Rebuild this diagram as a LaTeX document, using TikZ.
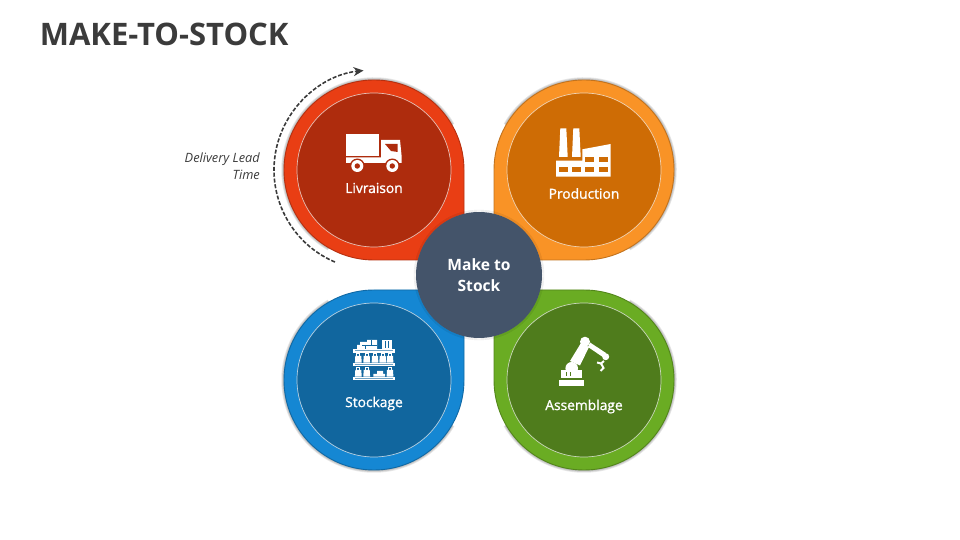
\documentclass[tikz,border=0pt]{standalone}
\usepackage{fontspec}
\setmainfont{Open Sans}
\newfontfamily\labelfont[FakeBold=1.2]{Open Sans}
\usepackage{xcolor}
\usetikzlibrary{arrows.meta}

\definecolor{titlegray}{HTML}{3B3B3B}
\definecolor{redouter}{HTML}{E93E14}
\definecolor{redinner}{HTML}{AE2C0D}
\definecolor{orangeouter}{HTML}{F99326}
\definecolor{orangeinner}{HTML}{CE6C05}
\definecolor{blueouter}{HTML}{1587D3}
\definecolor{blueinner}{HTML}{11669E}
\definecolor{greenouter}{HTML}{6AAC23}
\definecolor{greeninner}{HTML}{4F7C1C}
\definecolor{hubfill}{HTML}{44546A}

\tikzset{
	petal/.style={circle, minimum size=154pt, inner sep=0pt, draw=white!70!#1, line width=0.7pt, fill=#1},
	steplabel/.style={text=white, font=\labelfont\fontsize{13.8}{16}\selectfont},
	icon/.style={shift={(0,540)}, yscale=-1},
	halo/.style={draw=black, opacity=0.09, fill=none},
}

% teardrop behind each circle: centre, rotation, fill
\newcommand{\teardrop}[3]{
	\begin{scope}[shift={#1}, rotate=#2]
		\foreach \w in {1,2.5,4,5.5}
			\draw[halo, line width=\w pt] (-120:90pt) arc[start angle=-120, end angle=-330, radius=90pt];
		\draw[fill=#3, draw=#3!78!black, line width=0.9pt] (90,0) -- (90,-90) -- (0,-90) arc[start angle=-90, end angle=-360, radius=90pt] -- cycle;
	\end{scope}
}

\begin{document}
\begin{tikzpicture}[x=1pt, y=1pt]
	\useasboundingbox (0,0) rectangle (960,540);

	\node[text=titlegray, font=\fontsize{31}{36}\bfseries\selectfont, anchor=west] (title) at (36.3,506) {MAKE-TO-STOCK};

	\teardrop{(374,370)}{0}{redouter}
	\teardrop{(584,370)}{-90}{orangeouter}
	\teardrop{(374,160)}{90}{blueouter}
	\teardrop{(584,160)}{180}{greenouter}

	\node[petal=redinner] (livraison) at (374,370) {};
	\node[petal=orangeinner] (production) at (584,370) {};
	\node[petal=blueinner] (stockage) at (374,160) {};
	\node[petal=greeninner] (assemblage) at (584,160) {};

	\node[steplabel] (livraisonlabel) at (374,352) {Livraison};
	\node[steplabel] (productionlabel) at (584,346.5) {Production};
	\node[steplabel] (stockagelabel) at (374,136.5) {Stockage};
	\node[steplabel] (assemblagelabel) at (584,133.5) {Assemblage};

	% hub
	\foreach \w in {1,2.5,4}
		\draw[halo] (479,265) circle [radius=63+\w/2];
	\node[circle, minimum size=126pt, inner sep=0pt, fill=hubfill, text=white, align=center, font=\fontsize{15.6}{21}\bfseries\selectfont] (hub) at (479,265) {Make to\\Stock};

	% lead time arrow
	\coordinate (leadstart) at ([shift={(247:100pt)}]livraison.center);
	\draw[-{Stealth[length=10pt,width=9pt]}, titlegray, line width=1.6pt, dash pattern=on 4pt off 1.8pt] (leadstart) arc[start angle=247, end angle=96, radius=100pt];
	\node[left, align=right, text=titlegray, font=\fontsize{12.8}{17}\itshape\selectfont, inner sep=0pt] (leadlabel) at (260,373.5) {Delivery Lead\\Time};

	% truck
	\begin{scope}[icon]
		\fill[white] (346,134) rectangle (379,156);
		\fill[white] (346,157.5) -- (381,157.5) -- (381,140) -- (400,140) -- (401.7,157) -- (401.7,163) -- (346,163) -- cycle;
		\fill[redinner] (385,144) -- (397.7,144) -- (397.7,152) -- (391,151) -- cycle;
		\foreach \x in {357.3,392.3} {
			\fill[redinner] (\x,166) circle [radius=7.5];
			\fill[white] (\x,166) circle [radius=6];
			\fill[redinner] (\x,166) circle [radius=2.7];
		}
	\end{scope}

	% factory
	\begin{scope}[icon]
		\fill[white] (560.3,128.3) -- (566.3,128.3) -- (567.7,157) -- (559,157) -- cycle;
		\fill[white] (573.3,128.3) -- (579.3,128.3) -- (580.7,157) -- (572,157) -- cycle;
		\fill[white] (556,160.7) -- (582.3,160.7) -- (582.3,149.3) -- (610.7,144) -- (610.7,176.7) -- (556,176.7) -- cycle;
		\foreach \x in {559.3,572.3,585.3,598.7}
			\fill[orangeinner] (\x,166.7) rectangle +(9,5);
		\foreach \x in {585.3,598.7}
			\fill[orangeinner] (\x,156.7) rectangle +(9,5);
	\end{scope}

	% shelves
	\begin{scope}[icon]
		\foreach \y in {349,362.7,376.7} {
			\fill[white] (353.3,\y) rectangle (395,\y+3.8);
			\fill[blueinner!60!white] (355,\y+1.3) rectangle (393.3,\y+2.5);
		}
		\fill[white] (357,349) -- (357,345) -- (360,345) -- (360,342) -- (367,342) -- (367,340) -- (377,340) -- (377,349) -- cycle;
		\fill[blueinner] (362,344.7) rectangle (377,345.4);
		\fill[blueinner] (364.5,345) rectangle (365.3,349);
		\fill[blueinner] (371,340) rectangle (371.7,345);
		\fill[white] (382.3,340) rectangle (391.7,349);
		\fill[blueinner] (385,341) rectangle (385.8,348);
		\fill[blueinner] (388.2,341) rectangle (389,348);
		\foreach \x in {358.3,366.7,375,382.7,390} {
			\fill[white] (\x-3.4,362.7) -- (\x-3,356) -- (\x+3,356) -- (\x+3.4,362.7) -- cycle;
			\draw[white, line width=1pt] (\x-1.5,356) -- (\x-1.5,354) -- (\x+1.5,354) -- (\x+1.5,356);
		}
		\foreach \x in {358.3,366.7,390} {
			\fill[white] (\x-3.4,376.7) -- (\x-3,370) -- (\x+3,370) -- (\x+3.4,376.7) -- cycle;
			\draw[white, line width=1pt] (\x-1.5,370) -- (\x-1.5,368) -- (\x+1.5,368) -- (\x+1.5,370);
		}
		\fill[white] (373.3,376.7) -- (373.3,374) -- (377,374) -- (377,371) -- (383,371) -- (383,374) -- (385,374) -- (385,376.7) -- cycle;
	\end{scope}

	% robot arm
	\begin{scope}[icon]
		\fill[white] (559,380) rectangle (584,386);
		\fill[white] (561,370) rectangle (582.3,377.7);
		\fill[white] (571.7,368.3) circle [radius=6.3];
		\fill[greeninner] (565.5,372) rectangle (566.7,376);
		\fill[greeninner] (569.5,372) rectangle (570.7,376);
		\fill[white] (570,361) -- (580,365.5) -- (589,347) -- (581,343) -- cycle;
		\fill[white] (585,341.7) circle [radius=5];
		\fill[white] (590,342.5) -- (606,353) -- (603.5,357.5) -- (588,347) -- cycle;
		\fill[white] (605.7,356.7) circle [radius=3.5];
		\draw[white, line width=2pt] (604,361) -- (601,363.5) -- (597,362.5);
		\draw[white, line width=2pt] (601,363.5) -- (603.5,368) -- (600.5,371);
	\end{scope}
\end{tikzpicture}
\end{document}
